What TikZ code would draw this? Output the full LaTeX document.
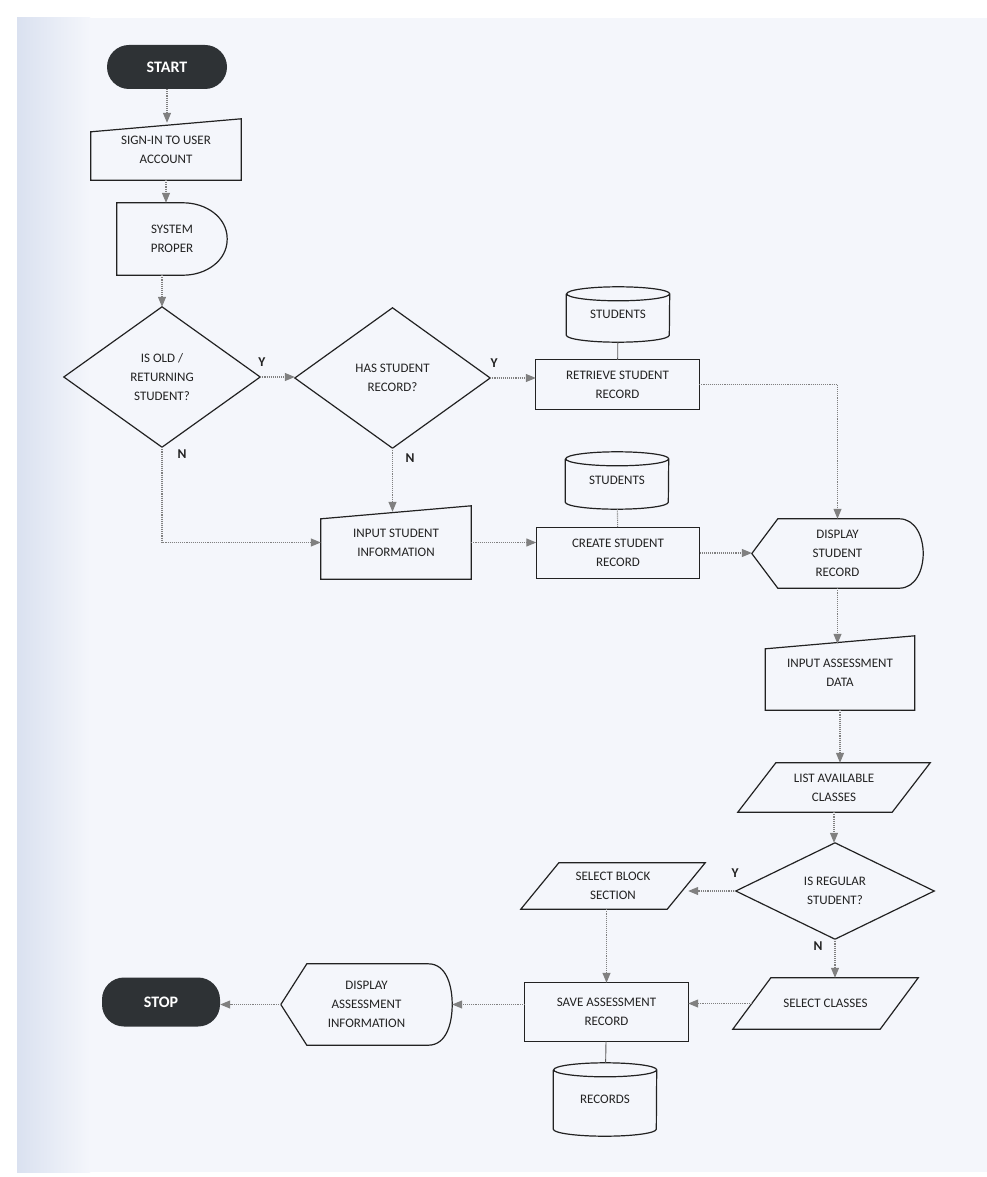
\documentclass[tikz,border=0pt]{standalone}
\usepackage{fontspec}
\setmainfont{Carlito}
\usetikzlibrary{shapes.geometric, arrows.meta}

\definecolor{pagebg}{HTML}{F4F6FB}
\definecolor{pageedge}{HTML}{DAE1F0}
\definecolor{termfill}{HTML}{2E3235}
\definecolor{ink}{HTML}{222222}
\definecolor{flow}{HTML}{808080}

\begin{document}
\begin{tikzpicture}[x=1pt,y=-1pt]

\tikzstyle{base}=[font=\fontsize{13}{19}\selectfont, text=ink, align=center, inner sep=2pt]
\tikzstyle{outline}=[draw=ink, line width=1.2pt]
\tikzstyle{term}=[rectangle, rounded corners=22pt, fill=termfill, minimum width=120pt, minimum height=44pt, text=white, font=\fontsize{16}{18}\selectfont\bfseries]
\tikzstyle{proc}=[base, minimum width=163pt, minimum height=50pt, append after command={\pgfextra{\draw[outline] (\tikzlastnode.south west) rectangle (\tikzlastnode.north east);}}]
\tikzstyle{decision}=[base, diamond, inner sep=1pt, append after command={\pgfextra{\draw[outline] (\tikzlastnode.west) -- (\tikzlastnode.north) -- (\tikzlastnode.east) -- (\tikzlastnode.south) -- cycle;}}]
\tikzstyle{manin}=[base, minimum width=150pt, append after command={\pgfextra{\draw[outline] (\tikzlastnode.south west) -- ([yshift=-13pt]\tikzlastnode.north west) -- (\tikzlastnode.north east) -- (\tikzlastnode.south east) -- cycle;}}]
\tikzstyle{delay}=[base, append after command={\pgfextra{\draw[outline] (\tikzlastnode.south west) -- (\tikzlastnode.north west) -- ([xshift=-44pt]\tikzlastnode.north east) to[out=0,in=90] (\tikzlastnode.east) to[out=-90,in=0] ([xshift=-44pt]\tikzlastnode.south east) -- cycle;}}]
\tikzstyle{disp}=[base, minimum width=171pt, append after command={\pgfextra{\draw[outline] (\tikzlastnode.west) -- ([xshift=26pt]\tikzlastnode.north west) -- ([xshift=-24pt]\tikzlastnode.north east) to[out=0,in=90] (\tikzlastnode.east) to[out=-90,in=0] ([xshift=-24pt]\tikzlastnode.south east) -- ([xshift=26pt]\tikzlastnode.south west) -- cycle;}}]
\tikzstyle{db}=[base, minimum width=103pt, append after command={\pgfextra{\draw[outline] ([yshift=-7pt]\tikzlastnode.north west) -- ([yshift=7pt]\tikzlastnode.south west) arc[start angle=180, end angle=360, x radius=51.5pt, y radius=7pt] -- ([yshift=-7pt]\tikzlastnode.north east) arc[start angle=0, end angle=180, x radius=51.5pt, y radius=7pt] arc[start angle=180, end angle=360, x radius=51.5pt, y radius=7pt];}}]
\tikzstyle{para}=[base, append after command={\pgfextra{\draw[outline] (\tikzlastnode.south west) -- ([xshift=38pt]\tikzlastnode.north west) -- (\tikzlastnode.north east) -- ([xshift=-38pt]\tikzlastnode.south east) -- cycle;}}]
\tikzstyle{yn}=[font=\fontsize{13.5}{14}\selectfont\bfseries, text=ink]
\tikzstyle{line}=[draw=flow, line width=1.1pt, densely dotted, -{Triangle[length=10pt,width=8pt]}]
\tikzstyle{dbline}=[draw=ink!75, line width=0.9pt]

% page
\useasboundingbox (0,0) rectangle (987,1177);
\fill[white] (0,0) rectangle (987,1177);
\fill[pagebg] (17,18) rectangle (987,1172);
\shade[left color=pageedge, right color=pagebg] (17,18) rectangle (90,1172);

% left column
\node (start) [term] at (167,67) {START};
\node (signin) [manin, minimum height=61pt] at (166,149.5) {SIGN-IN TO USER\\ACCOUNT};
\node (sys) [delay, minimum width=110pt, minimum height=72pt] at (172,239) {SYSTEM\\PROPER};
\node (d1) [decision, minimum width=196pt, minimum height=140pt] at (162,377) {IS OLD /\\RETURNING\\STUDENT?};

% middle
\node (d2) [decision, minimum width=195pt, minimum height=140pt] at (392.5,378) {HAS STUDENT\\RECORD?};
\node (inS) [manin, minimum height=73pt] at (396,542.5) {INPUT STUDENT\\INFORMATION};

\node (dbA) [db, minimum height=55pt] at (618,314.5) {STUDENTS};
\node (retrieve) [proc, minimum height=49pt] at (617.5,384.5) {RETRIEVE STUDENT\\RECORD};
\node (dbB) [db, minimum height=57pt] at (617,480.5) {STUDENTS};
\node (create) [proc] at (618,553) {CREATE STUDENT\\RECORD};

% right column
\node (dispS) [disp, minimum height=69pt] at (837.5,553.5) {DISPLAY\\STUDENT\\RECORD};
\node (inA) [manin, minimum width=149pt, minimum height=74pt] at (840,673) {INPUT ASSESSMENT\\DATA};
\node (listC) [para, minimum width=192pt, minimum height=49pt] at (834,787.5) {LIST AVAILABLE\\CLASSES};
\node (d3) [decision, minimum width=198pt, minimum height=96pt] at (835,891) {IS REGULAR\\STUDENT?};
\node (selB) [para, minimum width=184pt, minimum height=46pt] at (613,886) {SELECT BLOCK\\SECTION};
\node (selC) [para, minimum width=185pt, minimum height=51pt] at (825.5,1003.5) {SELECT CLASSES};

% bottom row
\node (save) [proc, minimum height=58pt] at (606.5,1012) {SAVE ASSESSMENT\\RECORD};
\node (rec) [db, minimum height=73pt] at (605,1099.5) {RECORDS};
\node (dispA) [disp, minimum height=81pt] at (366.5,1004.5) {DISPLAY\\ASSESSMENT\\INFORMATION};
\node (stop) [term, minimum width=118pt, minimum height=49pt] at (161,1002) {STOP};

% branch labels
\node (y1) [yn] at (262,362) {Y};
\node (n1) [yn] at (182,454) {N};
\node (y2) [yn] at (494,363) {Y};
\node (n2) [yn] at (410,458) {N};
\node (y3) [yn] at (735,873) {Y};
\node (n3) [yn] at (818,946) {N};

% flow
\draw[line] (start.south) -- ([yshift=-4pt]start.south |- signin.north);
\draw[line] (signin.south) -- (signin.south |- sys.north);
\draw[line] (d1.north |- sys.south) -- (d1.north);
\draw[line] (d1.east) -- (d1.east -| d2.west);
\draw[line] (d2.east) -- (d2.east -| retrieve.west);
\draw[line] (retrieve.east) -| (dispS.north);
\draw[line] (d2.south) -- ([yshift=-6pt]d2.south |- inS.north);
\draw[line] (d1.south) |- (inS.west);
\draw[line] (inS.east) -- (inS.east -| create.west);
\draw[line] (create.east) -- (create.east -| dispS.west);
\draw[dbline] (dbA) -- (retrieve);
\draw[line, -] (dbB) -- (create);

\draw[line] (dispS.south) -- ([yshift=-8pt]dispS.south |- inA.north);
\draw[line] (inA.south) -- (inA.south |- listC.north);
\draw[line] (listC.south) -- (listC.south |- d3.north);
\draw[line] (d3.west) -- ([xshift=-17pt]d3.west -| selB.east);
\draw[line] (d3.south) -- (d3.south |- selC.north);
\draw[line] (save.north |- selB.south) -- (save.north);
\draw[line] ([xshift=19pt]selC.west) -- (save.east |- selC.west);
\draw[dbline] (save) -- (rec);
\draw[line] (save.west |- dispA.east) -- (dispA.east);
\draw[line] (dispA.west) -- (dispA.west -| stop.east);

\end{tikzpicture}
\end{document}
